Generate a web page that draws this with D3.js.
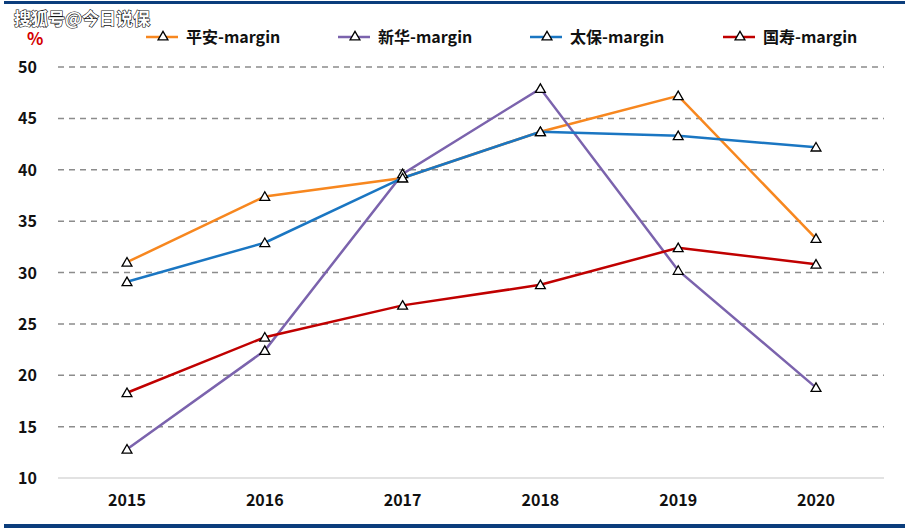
<!DOCTYPE html>
<html>
<head>
<meta charset="utf-8">
<script src="https://cdn.jsdelivr.net/npm/d3@7"></script>
<style>
  body { margin: 0; background: #fff; }
  svg { display: block; font-family: "Noto Sans CJK SC", "Open Sans", sans-serif; }
</style>
</head>
<body>
<div class="chart"></div>
<script>
// data
const years = ["2015", "2016", "2017", "2018", "2019", "2020"];
const pingan = [31.0, 37.4, 39.2, 43.7, 47.2, 33.3];
const xinhua = [12.8, 22.4, 39.6, 47.9, 30.2, 18.8];
const taibao = [29.1, 32.9, 39.2, 43.7, 43.3, 42.2];
const guoshou = [18.3, 23.7, 26.8, 28.8, 32.4, 30.8];
const yTicks = [10, 15, 20, 25, 30, 35, 40, 45, 50];

const series = [
  { name: "平安-margin", color: "#F7871F", values: pingan, lx: 146 },
  { name: "新华-margin", color: "#7B63AD", values: xinhua, lx: 338 },
  { name: "太保-margin", color: "#1A76C2", values: taibao, lx: 530 },
  { name: "国寿-margin", color: "#C00000", values: guoshou, lx: 723 },
];

const width = 909, height = 530;
const svg = d3.select(".chart").append("svg")
  .attr("width", width).attr("height", height);

const x = d3.scalePoint().domain(years).range([127, 816]);
const y = d3.scaleLinear().domain([10, 50]).range([478, 67]);

// border lines top and bottom
svg.append("rect").attr("x", 4).attr("y", 1).attr("width", width - 8).attr("height", 3).attr("fill", "#0B3D7C");
svg.append("rect").attr("x", 4).attr("y", 524).attr("width", width - 8).attr("height", 4).attr("fill", "#0B3D7C");

// grid
svg.append("g").selectAll("line")
  .data(yTicks)
  .enter()
  .append("line")
  .attr("x1", 58).attr("x2", 884)
  .attr("y1", (d) => y(d)).attr("y2", (d) => y(d))
  .attr("stroke", (d) => (d === 10 ? "#d9d9d9" : "#8c8c8c"))
  .attr("stroke-width", 1.5)
  .attr("stroke-dasharray", (d) => (d === 10 ? null : "6,5"));

// y labels
svg.append("g").selectAll("text")
  .data(yTicks)
  .enter()
  .append("text")
  .attr("x", 37)
  .attr("y", (d) => y(d) + 6)
  .attr("text-anchor", "end")
  .attr("font-size", "16px")
  .attr("font-weight", "bold")
  .attr("fill", "#111")
  .text((d) => d);

// x labels
svg.append("g").selectAll("text")
  .data(years)
  .enter()
  .append("text")
  .attr("x", (d) => x(d))
  .attr("y", 506)
  .attr("text-anchor", "middle")
  .attr("font-size", "16px")
  .attr("font-weight", "bold")
  .attr("fill", "#111")
  .text((d) => d);

const line = d3.line()
  .x((d, i) => x(years[i]))
  .y((d) => y(d));

const tri = d3.symbol().type(d3.symbolTriangle).size(42);

series.forEach((s) => {
  svg.append("path")
    .attr("d", line(s.values))
    .attr("fill", "none")
    .attr("stroke", s.color)
    .attr("stroke-width", 2.5);
});

series.forEach((s) => {
  svg.append("g").selectAll("path")
    .data(s.values)
    .enter()
    .append("path")
    .attr("d", tri)
    .attr("transform", (d, i) => `translate(${x(years[i])},${y(d) + 1})`)
    .attr("fill", "#fff")
    .attr("stroke", "#000")
    .attr("stroke-width", 1.3);
});

// legend
series.forEach((s) => {
  const g = svg.append("g").attr("transform", `translate(${s.lx},37)`);
  g.append("line").attr("x1", 0).attr("x2", 32).attr("y1", 0).attr("y2", 0)
    .attr("stroke", s.color).attr("stroke-width", 2.5);
  g.append("path").attr("d", tri).attr("transform", "translate(17,0)")
    .attr("fill", "#fff").attr("stroke", "#000").attr("stroke-width", 1.3);
  g.append("text").attr("x", 40).attr("y", 6)
    .attr("font-size", "16px").attr("font-weight", "bold").attr("fill", "#111")
    .text(s.name);
});

// unit
svg.append("text").attr("x", 27).attr("y", 45)
  .attr("font-size", "17px").attr("font-weight", "bold").attr("fill", "#D40000")
  .text("%");

// watermark
svg.append("text").attr("x", 14).attr("y", 25)
  .attr("font-size", "17px").attr("font-weight", "bold")
  .attr("fill", "#fff").attr("stroke", "#111").attr("stroke-width", 1.2)
  .attr("paint-order", "stroke")
  .text("搜狐号@今日说保");
</script>
</body>
</html>
